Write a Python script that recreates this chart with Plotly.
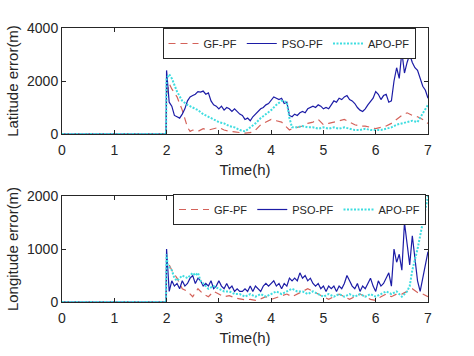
import numpy as np
import plotly.graph_objects as go

# ---------------- data ----------------
x_ticks = [0, 1, 2, 3, 4, 5, 6, 7]
lat_ticks = [0, 2000, 4000]
lon_ticks = [0, 1000, 2000]
series_names = ["GF-PF", "PSO-PF", "APO-PF"]

# PSO-PF: dense series, 0.05 h steps from 2.00 to 7.00 (plus zero segment before)
pso_grid = [round(2.0 + 0.05 * i, 2) for i in range(101)]
pso_t = [0, 1.99] + pso_grid

lat_pso = [0, 0,
    2400, 1200, 1050, 700, 650, 600, 750, 950, 1250, 1400,
    1450, 1500, 1600, 1580, 1620, 1500, 1550, 1250, 1100, 1050,
    950, 1050, 900, 1000, 950, 850, 950, 850, 750, 700,
    550, 600, 500, 650, 750, 850, 950, 1000, 1100, 1150,
    1300, 1400, 1350, 1300, 1350, 1150, 1200, 700, 650, 750,
    700, 800, 850, 800, 950, 1000, 1050, 1000, 1100, 1050,
    950, 1000, 950, 1100, 1250, 1200, 1350, 1300, 1400, 1450,
    1300, 1250, 1150, 1000, 900, 850, 950, 1100, 1250, 1350,
    1600, 1500, 1300, 1450, 1500, 1200, 1250, 2000, 2500, 2100,
    3100, 2300, 2700, 3000, 2700, 2500, 2400, 2100, 1800, 1650,
    1350]

lon_pso = [0, 0,
    1000, 200, 400, 300, 350, 250, 400, 300, 350, 450,
    500, 350, 450, 400, 300, 350, 300, 400, 250, 300,
    400, 300, 250, 350, 250, 300, 200, 250, 200, 200,
    250, 200, 300, 200, 300, 250, 200, 300, 350, 300,
    350, 400, 300, 350, 250, 350, 300, 450, 400, 450,
    400, 550, 450, 500, 400, 450, 350, 300, 350, 250,
    300, 200, 300, 250, 300, 200, 300, 250, 350, 500,
    400, 300, 250, 350, 200, 300, 250, 350, 450, 300,
    200, 400, 300, 350, 450, 550, 300, 1000, 750, 900,
    600, 1500, 1100, 700, 1250, 800, 400, 200, 450, 650,
    950]

# GF-PF latitude
gf_lat_t = [0, 1.99, 2.0, 2.05, 2.1, 2.2, 2.3, 2.4, 2.45, 2.5,
    2.6, 2.7, 2.8, 2.9, 3.0, 3.1, 3.2, 3.3, 3.4, 3.5,
    3.6, 3.7, 3.8, 3.9, 4.0, 4.1, 4.2, 4.3, 4.35, 4.4,
    4.5, 4.6, 4.7, 4.8, 4.9, 5.0, 5.1, 5.2, 5.3, 5.4,
    5.5, 5.6, 5.7, 5.8, 5.9, 6.0, 6.1, 6.2, 6.3, 6.4,
    6.5, 6.6, 6.7, 6.8, 6.9, 7.0]
gf_lat = [0, 0, 1500, 1900, 1700, 1400, 900, 250, 100, 150,
    100, 200, 150, 200, 250, 150, 100, 80, 50, 30,
    50, 150, 350, 450, 550, 500, 450, 250, 150, 200,
    250, 300, 400, 450, 550, 350, 400, 450, 500, 550,
    450, 350, 300, 300, 250, 200, 250, 300, 400, 550,
    700, 800, 700, 650, 550, 400]

# APO-PF latitude
apo_lat_t = [0, 1.99, 2.0, 2.05, 2.1, 2.2, 2.3, 2.4, 2.5, 2.6,
    2.7, 2.8, 2.9, 3.0, 3.1, 3.2, 3.3, 3.4, 3.5, 3.6,
    3.7, 3.8, 3.9, 4.0, 4.1, 4.2, 4.3, 4.35, 4.4, 4.5,
    4.6, 4.7, 4.8, 4.9, 5.0, 5.1, 5.2, 5.3, 5.4, 5.5,
    5.6, 5.7, 5.8, 5.9, 6.0, 6.1, 6.2, 6.3, 6.4, 6.5,
    6.6, 6.7, 6.8, 6.9, 7.0]
apo_lat = [0, 0, 2100, 2250, 2100, 1600, 1250, 1100, 1000, 900,
    750, 650, 550, 450, 400, 300, 250, 150, 100, 250,
    400, 600, 750, 900, 1100, 1250, 1200, 600, 250, 250,
    300, 250, 250, 200, 250, 200, 250, 200, 250, 200,
    150, 150, 200, 150, 150, 150, 200, 250, 350, 400,
    450, 500, 450, 750, 1100]

# GF-PF longitude
gf_lon_t = [0, 1.99, 2.0, 2.05, 2.1, 2.2, 2.3, 2.4, 2.5, 2.6,
    2.7, 2.8, 2.9, 3.0, 3.1, 3.2, 3.3, 3.4, 3.5, 3.6,
    3.7, 3.8, 3.9, 4.0, 4.1, 4.2, 4.3, 4.4, 4.5, 4.6,
    4.7, 4.8, 4.9, 5.0, 5.1, 5.2, 5.3, 5.4, 5.5, 5.6,
    5.7, 5.8, 5.9, 6.0, 6.1, 6.2, 6.3, 6.4, 6.5, 6.6,
    6.7, 6.8, 6.9, 7.0]
gf_lon = [0, 0, 700, 700, 600, 450, 250, 200, 100, 250,
    150, 100, 200, 150, 100, 120, 80, 60, 40, 50,
    30, 60, 100, 50, 80, 120, 150, 100, 150, 200,
    250, 200, 150, 100, 50, 100, 150, 100, 50, 100,
    150, 100, 50, 30, 100, 150, 100, 150, 150, 200,
    250, 180, 150, 100]

# APO-PF longitude
apo_lon_t = [0, 1.99, 2.0, 2.02, 2.1, 2.15, 2.2, 2.3, 2.4, 2.5,
    2.55, 2.6, 2.65, 2.7, 2.8, 2.9, 3.0, 3.1, 3.2, 3.3,
    3.4, 3.5, 3.6, 3.7, 3.8, 3.9, 4.0, 4.1, 4.2, 4.3,
    4.4, 4.5, 4.6, 4.7, 4.8, 4.9, 5.0, 5.1, 5.2, 5.3,
    5.4, 5.5, 5.6, 5.7, 5.8, 5.9, 6.0, 6.1, 6.2, 6.3,
    6.4, 6.5, 6.6, 6.65, 6.7, 6.75, 6.8, 6.9, 7.0]
apo_lon = [0, 0, 900, 700, 600, 450, 400, 500, 450, 550,
    500, 550, 400, 350, 250, 300, 250, 200, 200, 150,
    150, 100, 150, 100, 150, 100, 150, 200, 150, 200,
    250, 200, 200, 150, 200, 150, 100, 150, 100, 150,
    100, 150, 100, 150, 100, 150, 100, 150, 200, 150,
    200, 100, 200, 300, 600, 800, 1000, 1500, 2000]

# ---------------- styling ----------------
FONT = "Liberation Sans, Arial, sans-serif"
C_GF = "#d4625a"
C_PSO = "#1c1ca6"
C_APO = "#3fdde0"
AX = "#262626"

fig = go.Figure()

def add_set(gf_t, gf, ps_t, ps, ap_t, ap, xa, ya, leg):
    fig.add_trace(go.Scatter(x=gf_t, y=gf, mode="lines", name=series_names[0],
        line=dict(color=C_GF, width=1.2, dash="7px,5px"), xaxis=xa, yaxis=ya, legend=leg))
    fig.add_trace(go.Scatter(x=ps_t, y=ps, mode="lines", name=series_names[1],
        line=dict(color=C_PSO, width=1.2), xaxis=xa, yaxis=ya, legend=leg))
    fig.add_trace(go.Scatter(x=ap_t, y=ap, mode="lines", name=series_names[2],
        line=dict(color=C_APO, width=2, dash="2px,1.5px"), xaxis=xa, yaxis=ya, legend=leg))

add_set(gf_lat_t, gf_lat, pso_t, lat_pso, apo_lat_t, apo_lat, "x", "y", "legend")
add_set(gf_lon_t, gf_lon, pso_t, lon_pso, apo_lon_t, apo_lon, "x2", "y2", "legend2")

W, H = 474, 356
xl, xr = 62 / W, 428 / W

axis_common = dict(showline=True, linecolor=AX, linewidth=1, mirror="ticks",
                   ticks="inside", ticklen=4, tickcolor=AX, showgrid=False, zeroline=False,
                   automargin=False,
                   tickfont=dict(family=FONT, size=14, color=AX))

xt = dict(text="Time(h)", font=dict(size=15, family=FONT, color=AX), standoff=7)

fig.update_layout(
    width=W, height=H, margin=dict(l=0, r=0, t=0, b=0, pad=0), autosize=False,
    paper_bgcolor="white", plot_bgcolor="white",
    font=dict(family=FONT, color=AX),
    xaxis=dict(domain=[xl, xr], anchor="y", range=[0, 7], tickvals=x_ticks,
               ticklabelstandoff=3, title=xt, **axis_common),
    yaxis=dict(domain=[1 - 134 / H, 1 - 28 / H], anchor="x", range=[0, 4000], tickvals=lat_ticks,
               title=dict(text="Latitude error(m)", font=dict(size=15, family=FONT, color=AX), standoff=4),
               **axis_common),
    xaxis2=dict(domain=[xl, xr], anchor="y2", range=[0, 7], tickvals=x_ticks,
                ticklabelstandoff=3, title=xt, **axis_common),
    yaxis2=dict(domain=[1 - 302 / H, 1 - 196 / H], anchor="x2", range=[0, 2000], tickvals=lon_ticks,
                title=dict(text="Longitude error(m)", font=dict(size=15, family=FONT, color=AX), standoff=4),
                **axis_common),
    legend=dict(x=289 / W, y=1 - 28 / H, xanchor="center", yanchor="top", orientation="h",
                bgcolor="white", bordercolor=AX, borderwidth=1, itemwidth=30,
                font=dict(family=FONT, size=11, color=AX)),
    legend2=dict(x=426 / W, y=1 - 194 / H, xanchor="right", yanchor="top", orientation="h",
                 bgcolor="white", bordercolor=AX, borderwidth=1, itemwidth=30,
                 font=dict(family=FONT, size=11, color=AX)),
    showlegend=True,
)

fig.write_html("out.html", config={"displayModeBar": False},
               post_script="document.body.style.margin='0';document.body.style.overflow='hidden';")
